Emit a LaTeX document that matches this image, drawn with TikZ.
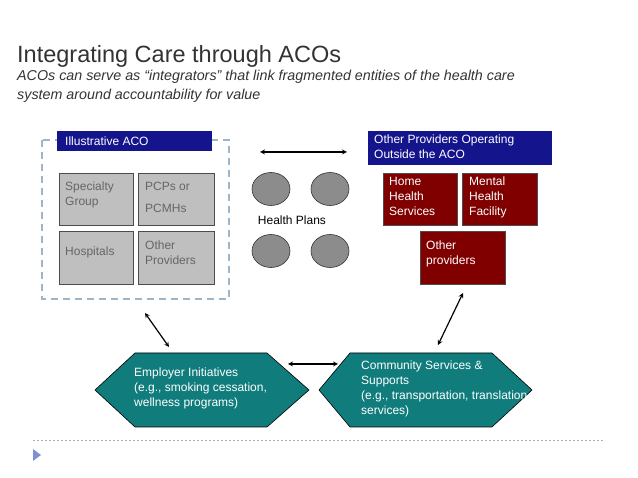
\documentclass[tikz,border=0pt]{standalone}
\usepackage{fontspec}
\usetikzlibrary{shapes.geometric}
\setmainfont{Liberation Sans}
\definecolor{navyc}{RGB}{20,20,140}
\definecolor{redc}{RGB}{128,0,0}
\definecolor{tealc}{RGB}{16,124,124}
\definecolor{dashc}{RGB}{160,180,200}
\begin{document}
\begin{tikzpicture}[x=1pt,y=-1pt,
  navy/.style={fill=navyc,draw=none},
  gbox/.style={fill=black!25,draw=black!70,line width=0.8pt},
  rbox/.style={fill=redc,draw=black!70,line width=0.8pt},
  plan/.style={ellipse,fill=black!45,draw=black!80,line width=0.6pt},
  hexa/.style={fill=tealc,draw=black,line width=0.6pt},
  dbl/.style={<->,>=stealth,line width=1.2pt},
  txt/.style={font=\fontsize{12}{15}\selectfont,align=left,anchor=north west,inner sep=0pt}]
\useasboundingbox (0,0) rectangle (638,478);
\node[anchor=base west,inner sep=0pt,text=black!80,font=\fontsize{23.5}{26}\selectfont] (title) at (17,63) {Integrating Care through ACOs};
\node[anchor=north west,inner sep=0pt,text=black!80,align=left,font=\fontsize{14.3}{19}\selectfont\itshape] (sub) at (17,70) {ACOs can serve as “integrators” that link fragmented entities of the health care\\system around accountability for value};
\draw[dash pattern=on 7pt off 5pt,draw=dashc,line width=1.3pt] (42,140) rectangle (229,299);
\fill[navy] (57,131) rectangle (212,151);
\node[txt,text=white,anchor=west] (ill) at (65,141) {Illustrative ACO};
\draw[gbox] (59,173) rectangle (133,225);
\draw[gbox] (138,173) rectangle (214,225);
\draw[gbox] (59,231) rectangle (133,284);
\draw[gbox] (138,231) rectangle (214,284);
\node[txt,text=black!60] (sg) at (65,182) {Specialty\\Group};
\node[txt,text=black!60,font=\fontsize{12}{22}\selectfont] (pcp) at (145,182) {PCPs or\\PCMHs};
\node[txt,text=black!60] (hos) at (65,247) {Hospitals};
\node[txt,text=black!60] (op) at (145,241) {Other\\Providers};
\coordinate (hl) at (260,152); \coordinate (hr) at (347,152);
\draw[dbl] (hl) -- (hr);
\node[plan,minimum width=38pt,minimum height=33pt] (p1) at (271,189) {};
\node[plan,minimum width=38pt,minimum height=33pt] (p2) at (330,189) {};
\node[plan,minimum width=38pt,minimum height=33pt] (p3) at (271,251) {};
\node[plan,minimum width=38pt,minimum height=33pt] (p4) at (330,251) {};
\node[font=\fontsize{12}{14}\selectfont,inner sep=0pt] (hp) at (292,220) {Health Plans};
\fill[navy] (368,131) rectangle (552,165);
\node[txt,text=white] (oth) at (374,135) {Other Providers Operating\\Outside the ACO};
\draw[rbox] (383,173) rectangle (457,225);
\draw[rbox] (462,173) rectangle (537,225);
\draw[rbox] (420,231) rectangle (505,284);
\node[txt,text=white] (hh) at (389,177) {Home\\Health\\Services};
\node[txt,text=white] (mh) at (469,177) {Mental\\Health\\Facility};
\node[txt,text=white] (opr) at (426,241) {Other\\providers};
\draw[hexa] (135,353) -- (267,353) -- (309,390) -- (267,427) -- (135,427) -- (95,390) -- cycle;
\draw[hexa] (350,353) -- (492,353) -- (532,390) -- (492,427) -- (350,427) -- (319,390) -- cycle;
\node[txt,text=white] (emp) at (134,368) {Employer Initiatives\\(e.g., smoking cessation,\\wellness programs)};
\begin{scope}
\clip (350,353) -- (492,353) -- (532,390) -- (492,427) -- (350,427) -- (319,390) -- cycle;
\node[txt,text=white] (com) at (361,361) {Community Services \&\\Supports\\(e.g., transportation, translation\\services)};
\end{scope}
\coordinate (a1) at (145,313); \coordinate (a2) at (169,347);
\coordinate (b1) at (463,293); \coordinate (b2) at (438,345);
\coordinate (c1) at (288,364); \coordinate (c2) at (338,364);
\draw[dbl] (a1) -- (a2);
\draw[dbl] (b1) -- (b2);
\draw[dbl] (c1) -- (c2);
\draw[dash pattern=on 2pt off 2pt,draw=dashc,line width=0.8pt] (33,440) -- (605,440);
\fill[dashc!80!blue] (33,449) -- (41,455) -- (33,461) -- cycle;
\end{tikzpicture}
\end{document}
